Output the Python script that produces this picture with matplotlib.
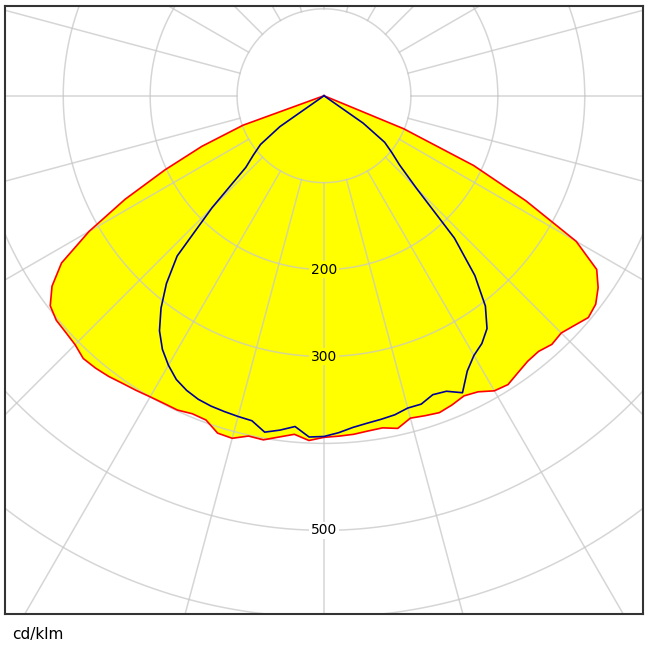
"""Polar light distribution curve (cd/klm), C0-C180 and C90-C270 planes."""

import matplotlib

matplotlib.use("Agg")
import matplotlib.pyplot as plt  # noqa: E402
import numpy as np  # noqa: E402

# --- Data --------------------------------------------------------------

# Gamma angles in degrees; negative = left half (C180 / C270), positive = right half.
GAMMA = [
    -90, -72.5, -70, -67.5, -65, -62.5, -60, -57.5, -55, -52.5, -50, -47.5,
    -45, -42.5, -40, -37.5, -35, -32.5, -30, -27.5, -25, -22.5, -20, -17.5,
    -15, -12.5, -10, -7.5, -5, -2.5, 0, 2.5, 5, 7.5, 10, 12.5, 15, 17.5,
    20, 22.5, 25, 27.5, 30, 32.5, 35, 37.5, 40, 42.5, 45, 47.5, 50, 52.5,
    55, 57.5, 60, 62.5, 65, 67.5, 70, 72.5, 90,
]

# C0 - C180 plane (red outline, yellow fill)
I_C0_C180 = [
    0, 0, 99, 152, 202, 258, 312, 358, 382, 397, 402, 403,
    405, 410, 409, 407, 404, 402, 400, 399, 399, 396, 397, 407,
    408, 401, 402, 396, 391, 397, 393, 392, 391, 389, 388, 392, 384, 386,
    388, 385, 381, 384, 392, 394, 389, 385, 384, 388, 386, 391, 397, 394,
    385, 372, 335, 262, 190, 99, 0, 0, 0,
]

# C90 - C270 plane (blue line)
I_C90_C270 = [
    0, 0, 0, 0, 0, 0, 0, 0, 62, 92, 106, 122,
    182, 250, 282, 308, 330, 346, 358, 368, 374, 378, 380, 381,
    382, 383, 393, 388, 382, 393, 392, 388, 383, 380, 378, 376, 372, 372,
    366, 368, 377, 357, 345, 338, 327, 305, 270, 222, 150, 118, 102, 88,
    55, 0, 0, 0, 0, 0, 0, 0, 0,
]

RING_VALUES = [100, 200, 300, 400, 500, 600, 700, 800]
RING_LABELS = [200, 300, 500]
SPOKE_STEP = 15
UNIT_LABEL = "cd/klm"

GRID_COLOR = "#c8c8c8"
FILL_COLOR = "#ffff00"


def to_xy(gamma_deg, intensity):
    g = np.radians(np.asarray(gamma_deg, dtype=float))
    r = np.asarray(intensity, dtype=float)
    return r * np.sin(g), -r * np.cos(g)


def main() -> None:
    fig = plt.figure(figsize=(6.5, 6.5), dpi=100)
    ax = fig.add_axes([5 / 650, 35 / 650, 638 / 650, 610 / 650])

    x_red, y_red = to_xy(GAMMA, I_C0_C180)
    x_blue, y_blue = to_xy(GAMMA, I_C90_C270)

    ax.fill(x_red, y_red, color=FILL_COLOR, zorder=1, linewidth=0)

    # polar grid: rings + spokes starting at the first ring
    t = np.linspace(0, 2 * np.pi, 721)
    for rv in RING_VALUES:
        ax.plot(rv * np.cos(t), rv * np.sin(t), color=GRID_COLOR,
                alpha=0.75, linewidth=1.1, zorder=2)
    r0, r1 = RING_VALUES[0], 2000
    for a in np.radians(np.arange(0, 360, SPOKE_STEP)):
        ax.plot([r0 * np.sin(a), r1 * np.sin(a)],
                [-r0 * np.cos(a), -r1 * np.cos(a)],
                color=GRID_COLOR, alpha=0.75, linewidth=1.1, zorder=2)

    ax.plot(x_red, y_red, color="#ff0000", linewidth=1.2, zorder=3)
    ax.plot(x_blue, y_blue, color="#000099", linewidth=1.2, zorder=4)

    for rv in RING_LABELS:
        bg = FILL_COLOR if rv < I_C0_C180[GAMMA.index(0)] else "white"
        ax.text(0, -rv, str(rv), ha="center", va="center", fontsize=10,
                zorder=5, bbox=dict(facecolor=bg, edgecolor="none", pad=1.0))

    ax.set_xlim(-367, 367)
    ax.set_ylim(-596, 103)
    ax.set_aspect("equal", adjustable="box")
    ax.set_xticks([])
    ax.set_yticks([])
    for sp in ax.spines.values():
        sp.set_color("#333333")
        sp.set_linewidth(1.5)

    fig.text(12 / 650, 1 - 634 / 650, UNIT_LABEL, ha="left", va="center",
             fontsize=11)

    fig.savefig("out.png", dpi=100)


if __name__ == "__main__":
    main()
